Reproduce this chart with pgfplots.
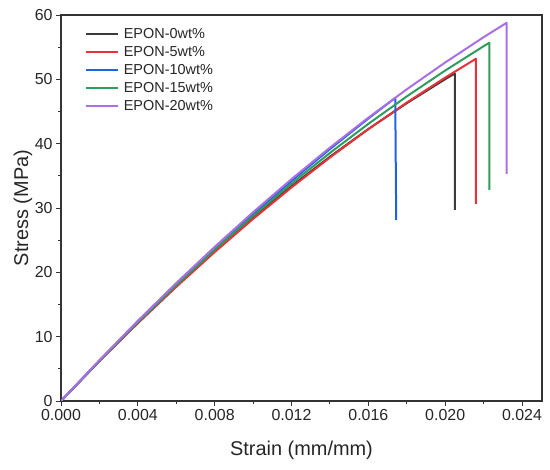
\documentclass[border=0pt]{standalone}
\usepackage{pgfplots}
\pgfplotsset{compat=1.18}
\usepackage{fontspec}
\setmainfont{Liberation Sans}
\definecolor{cblack}{HTML}{3C3C3C}
\definecolor{cred}{HTML}{E8323A}
\definecolor{cblue}{HTML}{1F62E6}
\definecolor{cgreen}{HTML}{2E9D5C}
\definecolor{cpurple}{HTML}{AA6FE6}
\definecolor{axc}{HTML}{333333}
\begin{document}
\begin{tikzpicture}
\useasboundingbox (0,0) rectangle (550bp,470bp);
\begin{axis}[
  at={(61bp,69bp)}, anchor=south west,
  width=481bp, height=386bp, scale only axis,
  xmin=0, xmax=0.02504, ymin=0, ymax=60,
  xtick={0,0.004,0.008,0.012,0.016,0.020,0.024},
  ytick={0,10,20,30,40,50,60},
  minor x tick num=1, minor y tick num=1,
  tick align=outside, xtick pos=bottom, ytick pos=left,
  major tick length=5bp, minor tick length=3bp,
  axis line style={axc, line width=1.2bp},
  every tick/.style={axc, line width=1bp},
  scaled x ticks=false,
  xticklabel style={/pgf/number format/.cd, fixed, fixed zerofill, precision=3, /tikz/.cd},
  /pgf/number format/assume math mode=true,
  ticklabel style={font=\fontsize{16}{19}\selectfont, text=black!85},
  xlabel={Strain (mm/mm)}, ylabel={Stress (MPa)},
  label style={font=\fontsize{20}{24}\selectfont, text=black!85},
  xlabel style={at={(axis description cs:0.5,-0.127)}, anchor=center},
  ylabel style={at={(axis description cs:-0.079,0.5)}, anchor=center, rotate=0},
  legend style={at={(axis description cs:0.05,0.968)}, anchor=north west, draw=none, fill=none,
    inner sep=0pt, row sep=4.5bp,
    nodes={inner sep=0pt, text height=10.5bp, text depth=3bp, text=black!85,
      font=\fontsize{14.5}{17}\selectfont}},
  legend cell align=left,
  legend image code/.code={\draw[#1, line width=2.2bp] (0bp,0bp) -- (32bp,0bp); \path (36.5bp,0bp);},
  every axis plot/.append style={line width=2bp, line join=round},
]
\addplot[cblack] coordinates {
(0,0) (0.002,6.27) (0.004,12.26) (0.006,17.97) (0.008,23.40) (0.010,28.54)
(0.012,33.40) (0.014,37.98) (0.016,42.28) (0.018,46.29) (0.020,50.02) (0.0205,50.91)
(0.0205,29.7)};
\addlegendentry{EPON-0wt\%}
\addplot[cred] coordinates {
(0,0) (0.002,6.17) (0.004,12.08) (0.006,17.74) (0.008,23.15) (0.010,28.30)
(0.012,33.20) (0.014,37.85) (0.016,42.25) (0.018,46.39) (0.020,50.27) (0.0216,53.20)
(0.0216,30.6)};
\addlegendentry{EPON-5wt\%}
\addplot[cblue] coordinates {
(0,0) (0.002,6.23) (0.004,12.25) (0.006,18.06) (0.008,23.65) (0.010,29.03)
(0.012,34.20) (0.014,39.16) (0.016,43.91) (0.0174,47.11)
(0.01745,28.1)};
\addlegendentry{EPON-10wt\%}
\addplot[cgreen] coordinates {
(0,0) (0.002,6.25) (0.004,12.26) (0.006,18.01) (0.008,23.52) (0.010,28.78)
(0.012,33.80) (0.014,38.56) (0.016,43.08) (0.018,47.35) (0.020,51.37) (0.022,55.15)
(0.0223,55.69) (0.0223,32.8)};
\addlegendentry{EPON-15wt\%}
\addplot[cpurple] coordinates {
(0,0) (0.002,6.35) (0.004,12.47) (0.006,18.34) (0.008,23.96) (0.010,29.35)
(0.012,34.49) (0.014,39.39) (0.016,44.04) (0.018,48.45) (0.020,52.62) (0.022,56.55)
(0.0232,58.79) (0.0232,35.3)};
\addlegendentry{EPON-20wt\%}
\end{axis}
\end{tikzpicture}
\end{document}
